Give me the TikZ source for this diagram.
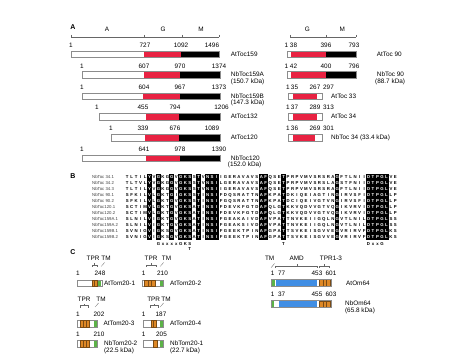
\documentclass[tikz,border=0pt]{standalone}
\usepackage{fontspec}
\setmainfont{Liberation Sans}
\usepackage{tikz}
\usetikzlibrary{positioning}

\definecolor{tocred}{RGB}{232,34,66}
\definecolor{tomorange}{RGB}{222,136,38}
\definecolor{tomgreen}{RGB}{92,178,72}
\definecolor{omblue}{RGB}{64,142,228}

% une lettre par case de 4.47pt
\def\seqchars#1{\ifx\relax#1\else\makebox[4.47pt]{#1}\expandafter\seqchars\fi}

% sequences de l'alignement (ligne/nom/sequence)
\newcommand{\tocseqs}{%
0/NbToc 34.1/TLTILYVGKGGVGKSSTVNSIIGERAVAVSAFQSETPRPVMVSRSRAGFTLNIIDTPGLVE,
1/NbToc 34.2/TLTVLYVGKGGVGKSSTVNSILGERAVAVSAFQSETPRPVMVSRSLAGSTFNIIDTPGLVE,
2/NbToc 34.3/TLTILYVGKGGVGKSSTVNSIIGERAVAVSAFQSETPRPVMVSRSRAGFTLNIIDTPGLVE,
3/NbToc 90.1/SFKILVLGKTGIGKSSTINSIFDQSRATTNAFKPATDKIQEIAGTINGIRVSFIDTPGLLP,
4/NbToc 90.2/SFKILVLGKTGVGKSSTINSIFGQSRATTNAFKPATDCIQEIVGTVNGIRVSFIDTPGLLP,
5/NbToc120.1/SCTIMVLGKTGVGKSATINSIFDEVKFGTDAFQLGTKKVQDVVGTVQGIKVRVIDTPGLLP,
6/NbToc120.2/SCTIMVLGKTGVGKSATINSIFDEVKFGTDAFQLGTKKVQDVVGTVQGIKVRVIDTPGLLP,
7/NbToc159A.1/SLNILVIGKTGVGKSATINSIFGEAKAIVDAFVPATTNVKEIIGQLNGVTLNILDTPGLSS,
8/NbToc159A.2/SLNILVIGKTGVGKSATINSIFGEAKSIVDAFVPATTNVKEIIGQLNGVTLNILDTPGLSS,
9/NbToc159B.1/SVNIGVIGKSGVGKSATINSIFGEEKTPINAFGPATTSVKEISGVVEGVRIRVFDTPGLKS,
10/NbToc159B.2/SVNIGVIGKSGVGKSATINSIFGEEKTPINAFGPATTSVKEISGVVEGVRIRVFDTPGLKS}

\tikzset{
    lbl/.style={font=\fontsize{6.4}{7}\selectfont, inner sep=0pt},
    panel/.style={font=\bfseries\fontsize{7}{8}\selectfont, inner sep=0pt},
    barline/.style={draw=black!45, line width=0.5pt},
    rule/.style={draw=black!60, line width=0.4pt},
    brk/.style={draw=black!60, line width=0.35pt},
    tpr/.style={fill=tomorange, draw=tomorange!55!black, line width=0.3pt},
    seq/.style={font=\bfseries\fontsize{4.3}{5}\selectfont, inner sep=0pt, anchor=west},
    seqname/.style={font=\fontsize{4.3}{5}\selectfont, inner sep=0pt, anchor=west, text=black!75},
}

\begin{document}
\begin{tikzpicture}[x=1pt, y=-1pt]

    % Fond
    \fill[white] (0,0) rectangle (474,358);
    \useasboundingbox (0,0) rectangle (474,358);

    % Lettres des panneaux
    \node[panel] (panA) at (73,27) {A};
    \node[panel] (panB) at (73,176) {B};
    \node[panel] (panC) at (73,252) {C};

    % A : domaines et regles
    \foreach \x/\txt in {107/A, 163/G, 201/M, 307.3/G, 342.3/M}
        \node[lbl] (head\x) at (\x,29) {\txt};
    \draw[rule] (71,37) -- (219,37);
    \foreach \x in {71,144,182,219} \draw[rule] (\x,35) -- (\x,37);
    \draw[rule] (290,37) -- (356,37);
    \foreach \x in {290,326,356} \draw[rule] (\x,35) -- (\x,37);

    % A : Toc159 / Toc132 / Toc120
    \foreach \y/\xs/\xr/\xb/\xe/\nm in {
        51/71/144/181/219/AtToc159, 71.3/82/144/180/220/NbToc159A,
        93/82/143/180/220/NbToc159B, 113.3/99/146/179/220/AtToc132,
        134.3/111/145/179/220/AtToc120, 155/82/146/180/220/NbToc120} {
        \fill[tocred] (\xr,\y) rectangle (\xb,\y+6.5);
        \fill[black] (\xb,\y) rectangle (\xe,\y+6.5);
        \draw[barline] (\xs,\y) rectangle (\xe,\y+6.5);
        \node[lbl, anchor=west] (\nm) at (230.7,\y+3.4) {\nm};
    }
    \node[lbl, anchor=west] (kdaA) at (230.7,82) {(150.7 kDa)};
    \node[lbl, anchor=west] (kdaB) at (230.7,103.3) {(147.3 kDa)};
    \node[lbl, anchor=west] (kdaC) at (227.7,165.3) {(152.0 kDa)};

    % Positions (acides amines)
    \foreach \x/\y/\txt in {
        71/45/1, 145/45/727, 181/45/1092, 212/45/1496,
        82/66/1, 144/66/607, 180/66/970, 219/66/1374,
        82/87/1, 144/87/604, 180/87/967, 219/87/1373,
        97/107.3/1, 143/107.3/455, 175/107.3/794, 221.5/107.3/1206,
        111/128.7/1, 143/128.7/339, 175/128.7/676, 212/128.7/1089,
        82/149/1, 144/149/641, 180/149/978, 219/149/1390}
        \node[lbl] (pos\x-\y) at (\x,\y) {\txt};

    % A : Toc90
    \foreach \y/\id/\txt in {51/at90/AtToc 90, 71.3/nb90/NbToc 90} {
        \fill[tocred] (291,\y) rectangle (326,\y+6.5);
        \fill[black] (326,\y) rectangle (356,\y+6.5);
        \draw[barline] (287,\y) rectangle (356,\y+6.5);
        \node[lbl, anchor=west] (\id) at (376.7,\y+3.4) {\txt};
    }
    \node[lbl, anchor=west] (kda90) at (375,82) {(88.7 kDa)};

    % A : Toc33 / Toc34
    \foreach \y/\xb/\id/\txt in {93/317/at33/AtToc 33, 113.3/317/at34/AtToc 34,
        134.3/314.7/nb34/NbToc 34 (33.4 kDa)} {
        \fill[tocred] (293,\y) rectangle (\xb,\y+6.5);
        \draw[barline] (288.5,\y) rectangle (322,\y+6.5);
        \node[lbl, anchor=west] (\id) at (331,\y+3.4) {\txt};
    }
    \foreach \x/\y/\txt in {
        286.5/45/1, 293.5/45/38, 326/45/396, 354/45/793,
        286.5/66/1, 293.5/66/42, 326/66/400, 354/66/796,
        288/87/1, 294.5/87/35, 315/87/267, 328.5/87/297,
        288/107.3/1, 294.5/107.3/37, 315/107.3/289, 328.5/107.3/313,
        288/128.7/1, 294.5/128.7/36, 315/128.7/269, 328.5/128.7/301}
        \node[lbl] (rpos\x-\y) at (\x,\y) {\txt};

    % B : colonnes conservees
    \foreach \col in {5,7,10,12,13,14,16,18,19,20,30,31,35,47,54,55,56,57,58}
        \fill[black] (124.77+4.47*\col,174) rectangle ++(4.47,66);

    % B : noms et sequences
    \foreach \row/\nm/\sq in \tocseqs {
        \node[seqname] (name\row) at (92,177+6*\row) {\nm};
        \node[seq] (seq\row) at (124.77,177+6*\row) {\expandafter\seqchars\sq\relax};
    }
    \begin{scope}
        \clip \foreach \col in {5,7,10,12,13,14,16,18,19,20,30,31,35,47,54,55,56,57,58}
            {(124.77+4.47*\col,174) rectangle ++(4.47,66)};
        \foreach \row/\nm/\sq in \tocseqs
            \node[seq, text=white] at (124.77,177+6*\row) {\expandafter\seqchars\sq\relax};
    \end{scope}

    % B : motifs G1 / G3
    \node[seq] (motifG1) at (156.06,244.5) {\seqchars GxxxxGKS\relax};
    \node[seq, anchor=center] (motifST) at (189.6,249) {T};
    \node[seq, anchor=center] (motifT) at (283.45,244.5) {T};
    \node[seq] (motifG3) at (366.1,244.5) {\seqchars DxxG\relax};

    % C : titres des domaines
    \foreach \x/\y/\txt in {93/258/TPR, 106/258/TM, 151/258/TPR, 166.5/258/TM,
        84/299.5/TPR, 101/299.5/TM, 153.7/299.5/TPR, 166/299.5/TM,
        269.7/258/TM, 296.7/258/AMD, 331/258/TPR1-3}
        \node[lbl] (dom\x-\y) at (\x,\y) {\txt};

    % C : accolades TPR et TM
    \foreach \xc/\w/\yb in {94.2/5/265, 151.5/10/265, 84/8/305.5, 154/8/305.5, 324.5/10/266} {
        \draw[brk] (\xc-\w/2,\yb+2) -- (\xc-\w/2,\yb) -- (\xc+\w/2,\yb) -- (\xc+\w/2,\yb+2);
        \draw[brk] (\xc,\yb) -- (\xc,\yb-1.8);
    }
    \foreach \xc/\yb in {102.5/265, 161.5/265, 96.5/305.5, 161.5/305.5, 272.5/266}
        \draw[brk] (\xc-1.5,\yb+1.5) -- (\xc,\yb) -- (\xc+2,\yb-2.5);
    \draw[brk] (275,268) -- (275,266) -- (317,266) -- (317,268);
    \draw[brk] (296.7,266) -- (296.7,264.2);

    % C : Tom20
    \foreach \y/\xs/\xe/\gs/\ge in {
        280/77/102/98.3/101, 280/142.3/163.3/160.3/162.7,
        320.3/77/97.3/94/96.7, 320.3/143.3/163.3/160/162.7,
        340.3/77/97.3/94/96.7, 340.3/143.3/163.3/160/162.7} {
        \fill[tomgreen] (\gs,\y) rectangle (\ge,\y+6.5);
        \draw[barline] (\xs,\y) rectangle (\xe,\y+6.5);
    }
    \foreach \pa/\pb/\y in {
        91.7/94.2/280, 94.2/96.7/280,
        144/147.7/280, 147.7/151.3/280, 151.3/155/280,
        80/83.1/320.3, 83.1/86.2/320.3, 86.2/89.3/320.3, 151/153.5/320.3, 153.5/156/320.3,
        80/83.1/340.3, 83.1/86.2/340.3, 86.2/89.3/340.3, 153.3/157.3/340.3,
        319.3/322.9/279.5, 322.9/326.5/279.5, 326.5/330/279.5,
        319.3/322.9/300.7, 322.9/326.5/300.7, 326.5/330/300.7}
        \filldraw[tpr] (\pa,\y) rectangle (\pb,\y+6.5);

    \foreach \x/\y/\txt in {
        78/273.3/1, 100/273.3/248, 143.7/273.3/1, 162.5/273.3/210,
        78/314/1, 99/314/202, 143.7/314/1, 161/314/187,
        78/334/1, 99/334/210, 143.7/334/1, 161.5/334/205}
        \node[lbl] (tpos\x-\y) at (\x,\y) {\txt};

    \node[lbl, anchor=west] (AtTom20-1) at (104,283.4) {AtTom20-1};
    \node[lbl, anchor=west] (AtTom20-2) at (170,283.4) {AtTom20-2};
    \node[lbl, anchor=west] (AtTom20-3) at (103.3,323.7) {AtTom20-3};
    \node[lbl, anchor=west] (AtTom20-4) at (170,323.7) {AtTom20-4};
    \node[lbl, anchor=west] (NbTom20-2) at (104,343.6) {NbTom20-2};
    \node[lbl, anchor=west] (NbTom20-1) at (170,343.6) {NbTom20-1};
    \node[lbl] (kdaT2) at (119,351) {(22.5 kDa)};
    \node[lbl] (kdaT1) at (185,351) {(22.7 kDa)};

    % C : Om64
    \fill[tomgreen] (271.7,279.5) rectangle (275,286);
    \fill[omblue] (275.7,279.5) rectangle (317.3,286);
    \draw[barline] (271.7,279.5) rectangle (331.7,286);
    \fill[tomgreen] (271.7,300.7) rectangle (274.3,307.2);
    \fill[omblue] (279.3,300.7) rectangle (317.3,307.2);
    \draw[barline] (271.7,300.7) rectangle (331.7,307.2);
    \foreach \x/\y/\txt in {
        272.7/273.3/1, 281.7/273.3/77, 317/273.3/453, 331/273.3/601,
        272.7/294/1, 281.7/294/37, 317/294/455, 331/294/603}
        \node[lbl] (opos\x-\y) at (\x,\y) {\txt};
    \node[lbl, anchor=west] (AtOm64) at (346,283) {AtOm64};
    \node[lbl] (NbOm64) at (358,303.6) {NbOm64};
    \node[lbl] (kdaOm) at (360,310.6) {(65.8 kDa)};

\end{tikzpicture}
\end{document}
